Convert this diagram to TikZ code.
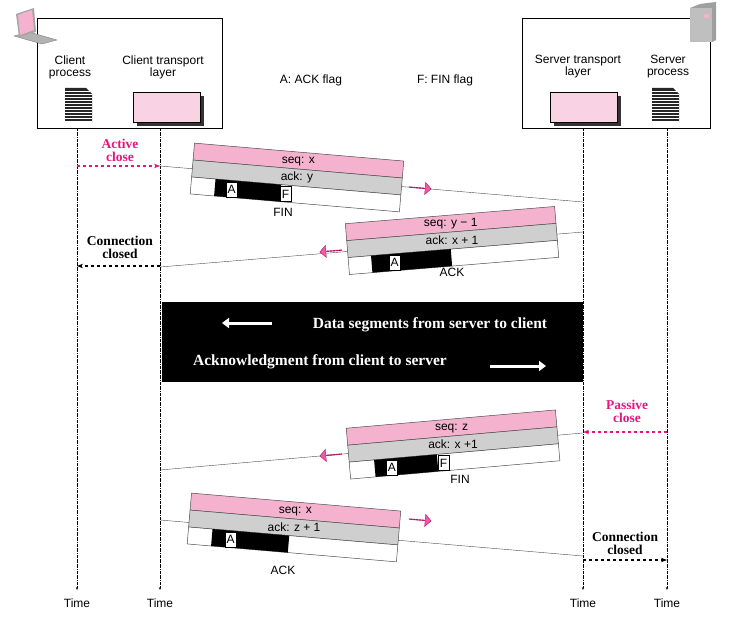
\documentclass[tikz,border=0pt]{standalone}
\usepackage{fontspec}
\setmainfont{Liberation Sans}
\newfontfamily\serifb{Liberation Serif}
\usetikzlibrary{shapes.arrows,arrows.meta}
\definecolor{pk}{HTML}{F4B2CF}
\definecolor{pkl}{HTML}{F9D3E4}
\definecolor{gr}{HTML}{CFCFCF}
\definecolor{mag}{HTML}{E5157F}
\begin{document}
\begin{tikzpicture}[x=1pt,y=-1pt,
  lbl/.style={font=\fontsize{12}{12}\selectfont,align=center,inner sep=0},
  sb/.style={font=\serifb\bfseries\fontsize{13.5}{13}\selectfont,align=center,inner sep=0},
  tl/.style={densely dashdotted,-{Stealth[length=3pt]}},
  row/.style={draw=black!70,line width=0.5pt},
  parr/.style={single arrow,draw=mag!80!black,fill=mag!70,minimum height=22pt,minimum width=12pt,single arrow head extend=3pt,inner sep=0},
  blk/.style={fill=black},
  flg/.style={fill=white,draw=black,line width=0.3pt,font=\fontsize{12}{12}\selectfont,inner sep=0,minimum width=11pt,minimum height=15pt},
  wl/.style={font=\fontsize{12}{12}\selectfont,inner sep=0}]
\useasboundingbox (0,0) rectangle (749,620);
% boxes
\draw[line width=0.6pt] (37,18) rectangle (222,128);
\draw[line width=0.6pt] (522,18) rectangle (710,128);
% laptop icon
\fill[gray!60,draw=gray] (14,36) -- (42,44) -- (57,40) -- (29,32) -- cycle;
\fill[gray!70] (16,14) -- (34,8) -- (36,32) -- (19,37) -- cycle;
\fill[pk] (18,15) -- (32,10) -- (34,30) -- (20,35) -- cycle;
% server icon
\fill[gray!50] (690,8) rectangle (712,42);
\fill[gray!75] (700,4) -- (716,2) -- (716,40) -- (712,42) -- (712,8) -- (690,8) -- cycle;
\fill[pk] (704,14) rectangle (709,18);
\node[lbl] (cp) at (70,67) {Client\\process};
\node[lbl] (ct) at (163,67) {Client transport\\layer};
\node[lbl] (st) at (578,67) {Server transport\\layer};
\node[lbl] (sp) at (668,67) {Server\\process};
\node[wl] (fa) at (311,80) {A: ACK flag};
\node[wl] (ff) at (445,80) {F: FIN flag};
% documents & transport rects
\foreach \dx/\nm in {65/d1,652/d2}{
  \fill[black!85] (\dx,88) -- (\dx+21,88) -- (\dx+27,94) -- (\dx+27,122) -- (\dx,122) -- cycle;
  \foreach \yy in {91,94,...,121} \draw[white,line width=0.4pt] (\dx,\yy) -- (\dx+27,\yy);
}
\foreach \rx in {133,550}{
  \fill[black!80] (\rx+4,96) rectangle (\rx+71,126);
  \fill[pkl,draw=black,line width=0.6pt] (\rx,92) rectangle (\rx+67,122);
}
% timelines
\draw[tl] (77,128) -- (77,590);
\draw[tl] (160,128) -- (160,590);
\draw[tl] (583,128) -- (583,590);
\draw[tl] (667,128) -- (667,590);
\foreach \x in {77,160,583,667} \node[wl] at (\x,603) {Time};
% client side labels
\node[sb,text=mag] (ac) at (120,150) {Active\\close};
\draw[mag,dashed,line width=1.2pt,-{Stealth[length=6pt]}] (77,166) -- (160,166);
\node[sb] (cc1) at (120,247) {Connection\\closed};
\draw[black,dashed,line width=1.2pt,-{Stealth[length=6pt]}] (160,266) -- (77,266);
\node[sb,text=mag] (pc) at (627,411) {Passive\\close};
\draw[mag,dashed,line width=1.2pt,-{Stealth[length=6pt]}] (667,432) -- (583,432);
\node[sb] (cc2) at (625,543) {Connection\\closed};
\draw[black,dashed,line width=1.2pt,-{Stealth[length=6pt]}] (583,560) -- (667,560);
% segment lines
\draw[black!70] (160,166) -- (583,202);
\draw[black!70] (583,232) -- (160,267);
\draw[black!70] (583,433) -- (160,470);
\draw[black!70] (160,520) -- (583,556);
% segment 1
\begin{scope}[shift={(297,177)},rotate=-4.9]
 \filldraw[row,fill=pk] (-105,-25) rectangle (105,-8);
 \filldraw[row,fill=gr] (-105,-8) rectangle (105,9);
 \filldraw[row,fill=white] (-105,9) rectangle (105,26);
 \fill[blk] (-81,9) rectangle (-15,26);
 \node[flg] (a1) at (-64,18) {A};
 \node[flg] (f1) at (-10,18) {F};
 \node[wl] (s1) at (0,-16) {seq: x};
 \node[wl] (k1) at (0,0) {ack: y};
\end{scope}
\node[wl] (n1) at (283,212) {FIN};
\node[parr] (p1) at (420,188) [rotate=-4.9] {};
% segment 2
\begin{scope}[shift={(452,240)},rotate=4.7]
 \filldraw[row,fill=pk] (-105,-25) rectangle (105,-8);
 \filldraw[row,fill=gr] (-105,-8) rectangle (105,9);
 \filldraw[row,fill=white] (-105,9) rectangle (105,26);
 \fill[blk] (-82,9) rectangle (-2,26);
 \node[flg] (a2) at (-59,18) {A};
 \node[wl] (s2) at (0,-16) {seq: y − 1};
 \node[wl] (k2) at (0,0) {ack: x + 1};
\end{scope}
\node[wl] (n2) at (452,272) {ACK};
\node[parr] (p2) at (331,251) [rotate=180+4.7] {};
% black box
\fill[black] (162,302) rectangle (583,382);
\node[sb,text=white,font=\serifb\bfseries\fontsize{15.5}{15}\selectfont] (t1) at (430,325) {Data segments from server to client};
\draw[white,line width=3pt,-{Triangle[length=7pt,width=10pt]}] (272,323) -- (222,323);
\node[sb,text=white,font=\serifb\bfseries\fontsize{15.5}{15}\selectfont] (t2) at (320,362) {Acknowledgment from client to server};
\draw[white,line width=3pt,-{Triangle[length=7pt,width=10pt]}] (490,366) -- (546,366);
% segment 3
\begin{scope}[shift={(453,444)},rotate=5]
 \filldraw[row,fill=pk] (-105,-25) rectangle (105,-8);
 \filldraw[row,fill=gr] (-105,-8) rectangle (105,9);
 \filldraw[row,fill=white] (-105,9) rectangle (105,26);
 \fill[blk] (-80,9) rectangle (-17,26);
 \node[flg] (a3) at (-63,18) {A};
 \node[flg] (f3) at (-11,18) {F};
 \node[wl] (s3) at (0,-16) {seq: z};
 \node[wl] (k3) at (0,0) {ack: x +1};
\end{scope}
\node[wl] (n3) at (460,479) {FIN};
\node[parr] (p3) at (331,455) [rotate=185] {};
% segment 4
\begin{scope}[shift={(294,527)},rotate=-4.9]
 \filldraw[row,fill=pk] (-105,-25) rectangle (105,-8);
 \filldraw[row,fill=gr] (-105,-8) rectangle (105,9);
 \filldraw[row,fill=white] (-105,9) rectangle (105,26);
 \fill[blk] (-81,9) rectangle (-4,26);
 \node[flg] (a4) at (-62,18) {A};
 \node[wl] (s4) at (0,-16) {seq: x};
 \node[wl] (k4) at (0,0) {ack: z + 1};
\end{scope}
\node[wl] (n4) at (283,570) {ACK};
\node[parr] (p4) at (420,520) [rotate=-4.9] {};
\end{tikzpicture}
\end{document}
